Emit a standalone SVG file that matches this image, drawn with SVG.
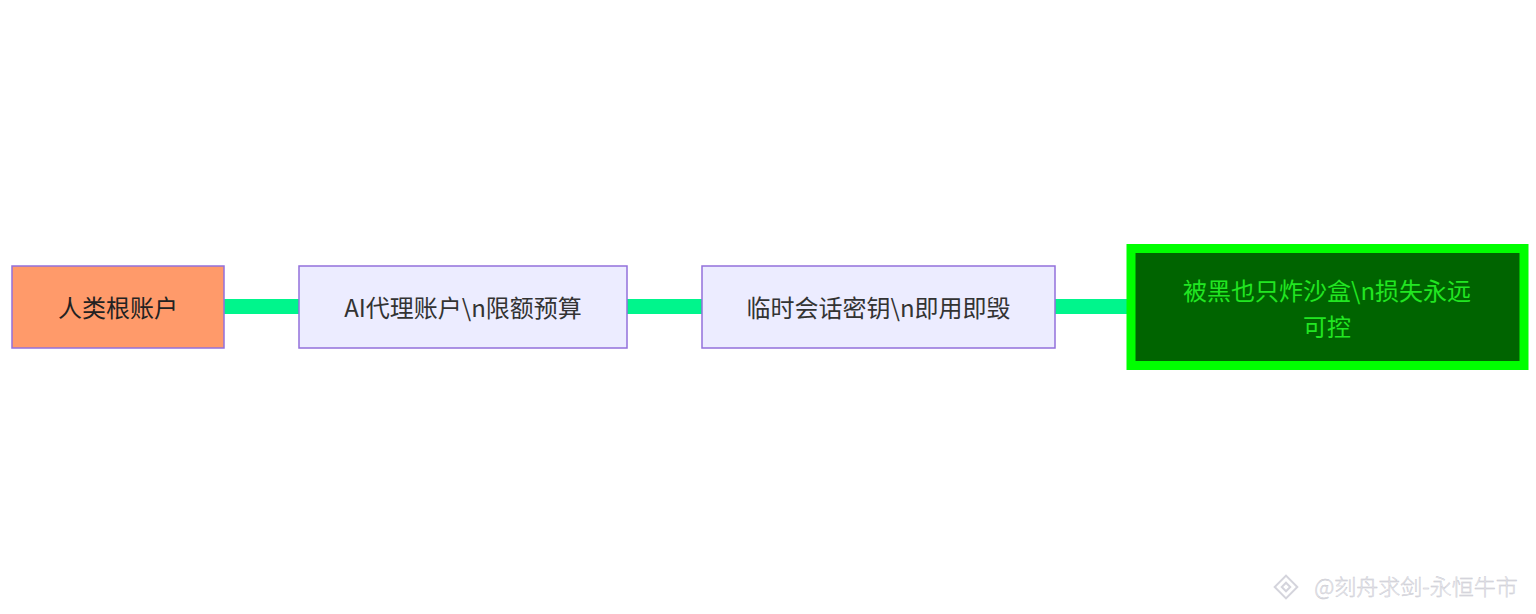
<svg xmlns="http://www.w3.org/2000/svg" width="1536" height="614" viewBox="0 0 1536 614">
<style>
text{font-family:"Noto Sans CJK SC","Liberation Sans",sans-serif;font-size:24px;text-anchor:middle;dominant-baseline:central;fill:#333}
.n rect{fill:#ECECFF;stroke:#9370DB;stroke-width:1.5}
.e{stroke:#00F58C;stroke-width:15;fill:none}
</style>
<rect width="1536" height="614" fill="#fff"/>
<g id="edges">
<line class="e" x1="224" y1="306.5" x2="299" y2="306.5"/>
<line class="e" x1="627" y1="306.5" x2="702" y2="306.5"/>
<line class="e" x1="1055" y1="306.5" x2="1127" y2="306.5"/>
</g>
<g id="root" class="n"><rect x="12" y="266" width="212" height="82" style="fill:#FF9A6A"/><text x="118" y="306" style="fill:#222">人类根账户</text></g>
<g id="agent" class="n"><rect x="299" y="266" width="328" height="82"/><text x="463" y="306">AI代理账户\n限额预算</text></g>
<g id="session" class="n"><rect x="702" y="266" width="353" height="82"/><text x="878.5" y="306">临时会话密钥\n即用即毁</text></g>
<g id="sandbox"><rect x="1131" y="248.5" width="393" height="117" fill="#006400" stroke="#00FF00" stroke-width="9"/><text x="1327" y="289" style="fill:#22E622">被黑也只炸沙盒\n损失永远</text><text x="1327" y="325" style="fill:#22E622">可控</text></g>
<g id="watermark"><text x="1416" y="585" style="fill:#ededf2;font-size:22px;font-weight:300;stroke:#c4c4cc;stroke-width:0.4">@刻舟求剑-永恒牛市</text>
<g transform="translate(1286 587) rotate(45)" fill="none" stroke="#d4d4dc" stroke-width="2"><rect x="-8" y="-8" width="16" height="16"/><rect x="-3" y="-3" width="6" height="6"/></g></g>
</svg>
